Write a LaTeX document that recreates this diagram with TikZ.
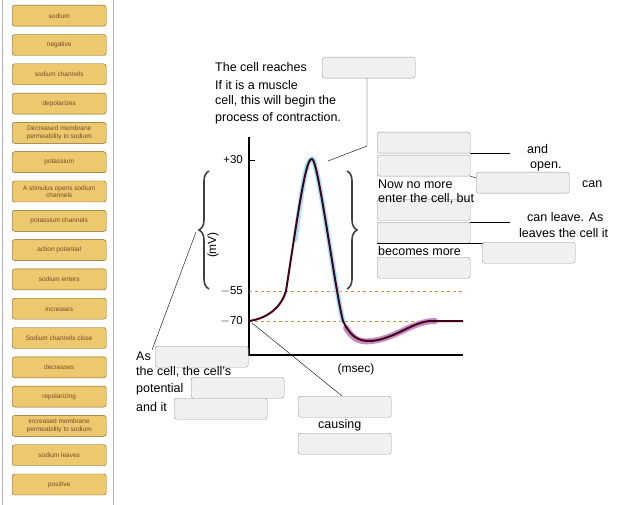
\documentclass[tikz,border=0pt]{standalone}
\usepackage{fontspec}
\setmainfont{Liberation Sans}
\usetikzlibrary{decorations.pathreplacing}
\definecolor{btnfill}{RGB}{236,200,110}
\definecolor{btndraw}{RGB}{130,95,30}
\definecolor{dashcol}{RGB}{190,160,40}
\begin{document}
\begin{tikzpicture}[x=1pt,y=-1pt,
 btn/.style={draw=btndraw,fill=btnfill,rounded corners=2.5pt,minimum width=94pt,minimum height=21pt,inner sep=1pt,align=center,font=\fontsize{6.5}{7.3}\selectfont,text=brown!60!black,anchor=north west},
 blank/.style={draw=gray!80,fill=gray!12,rounded corners=2.5pt,minimum width=93pt,minimum height=21pt,anchor=north west,inner sep=0pt},
 lbl/.style={font=\fontsize{12.5}{14}\selectfont,inner sep=0pt,anchor=west},
 tk/.style={font=\fontsize{11.5}{13}\selectfont,inner sep=0pt,anchor=east}]
\useasboundingbox (0,0) rectangle (626,505);
\draw[gray!60] (2,0) -- (2,505) (113,0) -- (113,505);
\foreach \t [count=\i] in {sodium,negative,sodium channels,depolarizes,{Decreased membrane\\permeability to sodium},potassium,{A stimulus opens sodium\\channels},potassium channels,action potential,sodium enters,increases,Sodium channels close,decreases,repolarizing,{increased membrane\\permeability to sodium},sodium leaves,positive}
  \node[btn] (b\i) at (12,{5+(\i-1)*29.3}) {\t};
% axes
\coordinate (o) at (249,355);
\draw[line width=1.3pt] (249,137) coordinate (yt) -- (o) -- (463,355) coordinate (xe);
\draw[dashed,dashcol,line width=1pt] (249,291) -- (463,291) (249,321) -- (463,321);
\draw (249,160) -- (255,160);
\node[tk] (t30) at (243,160) {+30};
\node[tk] (t55) at (243,291) {$-$55};
\node[tk] (t70) at (243,321) {$-$70};
\draw[line width=5pt,cyan!35,line cap=round] (295,240) .. controls (302,190) and (306,158) .. (312,159) .. controls (318,158) and (335,290) .. (343,321);
\draw[line width=6pt,violet!45,line cap=round] (346,328) .. controls (355,342) and (362,343) .. (378,340) .. controls (400,335) and (415,321) .. (435,321);
\draw[line width=2pt,black!65!purple] (249,321) .. controls (270,318) and (282,305) .. (286,291) .. controls (300,200) and (306,158) .. (312,159) .. controls (318,158) and (335,290) .. (343,321) .. controls (352,340) and (362,343) .. (378,340) .. controls (400,335) and (415,321) .. (432,321) -- (463,321);
\draw[decorate,decoration={brace,amplitude=10pt},line width=1.6pt,black!75] (209,289) -- (209,171);
\draw[decorate,decoration={brace,amplitude=10pt},line width=1.6pt,black!75] (347,171) -- (347,289);
\node[rotate=90,font=\fontsize{12}{13}\selectfont] (mv) at (213,245) {(mV)};
\node[font=\fontsize{12}{13}\selectfont] (ms) at (356,369) {(msec)};
% top text
\node[lbl] (t1) at (215,67) {The cell reaches};
\node[blank] (k1) at (322,57) {};
\node[lbl] (t2) at (215,85) {If it is a muscle};
\node[lbl] (t3) at (215,101) {cell, this will begin the};
\node[lbl] (t4) at (215,118) {process of contraction.};
\draw (328,161) -- (367,146) -- (367,78);
% right
\node[blank] (r1) at (377,132) {};
\node[blank] (r2) at (377,155) {};
\draw (470,153) -- (510,153);
\node[lbl] (a1) at (527,149) {and};
\node[lbl] (a2) at (530,166) {open.};
\node[blank] (r3) at (476,172) {};
\draw (470,176) -- (476,178);
\node[lbl] (a3) at (378,184) {Now no more};
\node[lbl] (a4) at (582,184) {can};
\node[blank] (r4) at (377,199) {};
\node[lbl] (a5) at (378,199) {enter the cell, but};
\node[blank] (r5) at (377,222) {};
\draw (470,222) -- (510,222) (377,243) -- (510,243);
\node[lbl] (a6) at (527,217) {can leave. As};
\node[lbl] (a7) at (519,233) {leaves the cell it};
\node[lbl] (a8) at (378,251) {becomes more};
\node[blank] (r6) at (482,242) {};
\node[blank] (r7) at (377,257) {};
% bottom left
\node[lbl] (c1) at (136,356) {As};
\node[blank] (l1) at (155,346) {};
\node[lbl] (c2) at (136,372) {the cell, the cell's};
\node[lbl] (c3) at (136,389) {potential};
\node[blank] (l2) at (191,377) {};
\node[lbl] (c4) at (136,407) {and it};
\node[blank] (l3) at (174,398) {};
\draw (152,350) -- (196,232);
\draw (252,323) -- (342,396);
\node[blank] (m1) at (298,396) {};
\node[lbl] (c5) at (318,425) {causing};
\node[blank] (m2) at (298,433) {};
\end{tikzpicture}
\end{document}
